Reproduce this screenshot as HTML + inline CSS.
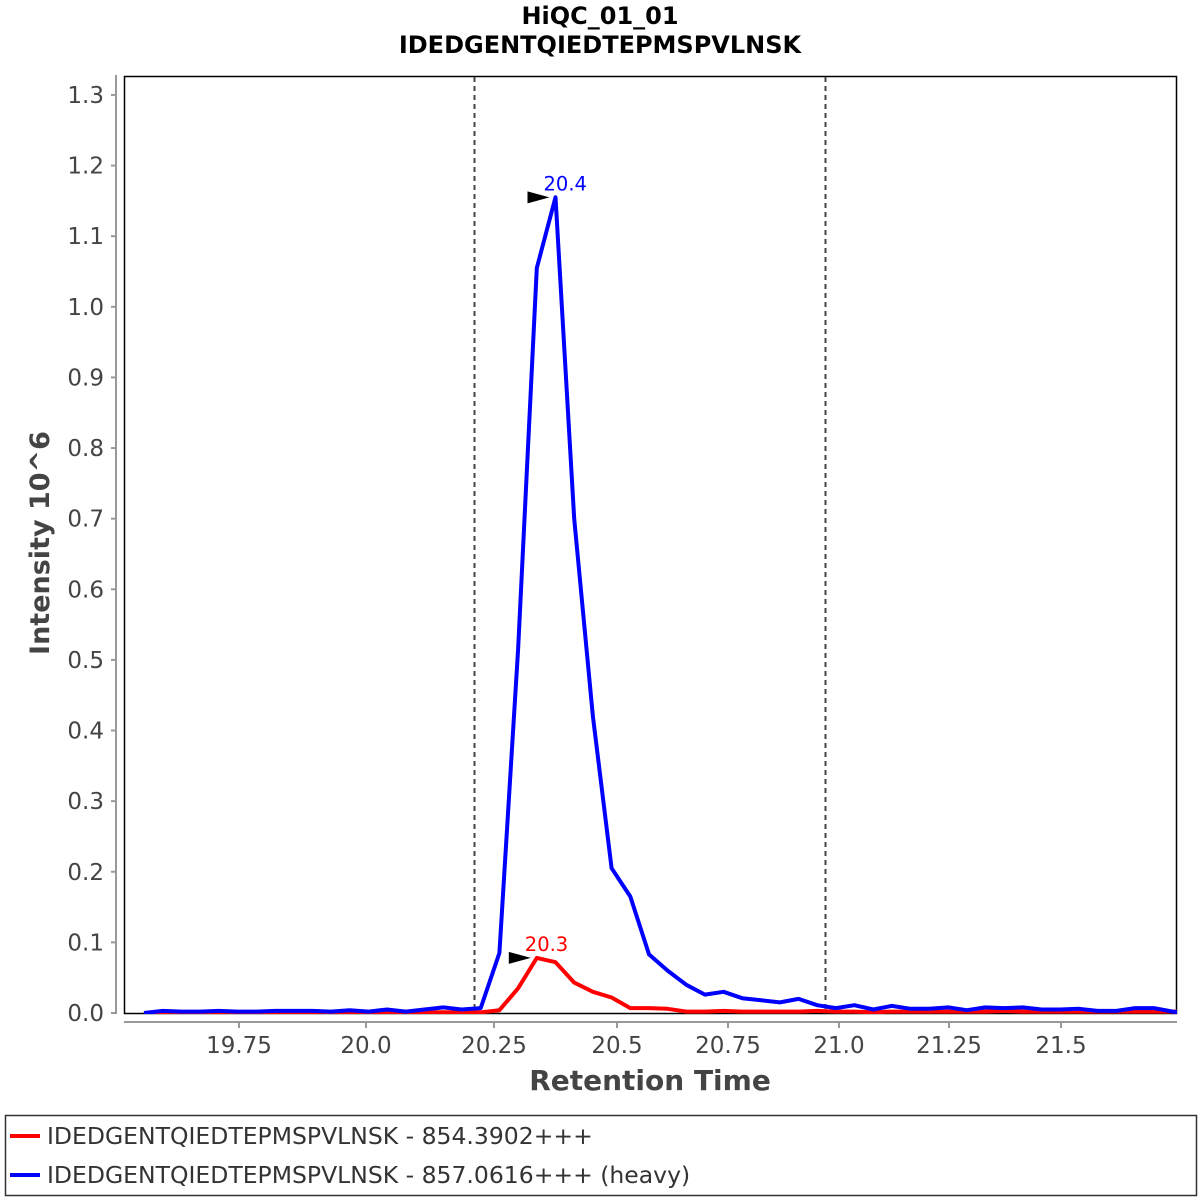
<!DOCTYPE html>
<html><head><meta charset="utf-8"><style>
html,body{margin:0;padding:0;background:#fff;}
svg{display:block;font-family:"DejaVu Sans","Liberation Sans",sans-serif;}
</style></head><body>
<svg id="chart" width="1200" height="1200" viewBox="0 0 1200 1200">
<rect x="0" y="0" width="1200" height="1200" fill="#fff"/>
<text x="600" y="24" text-anchor="middle" font-size="24" font-weight="bold" fill="#000">HiQC_01_01</text>
<text x="600" y="53" text-anchor="middle" font-size="24" font-weight="bold" fill="#000">IDEDGENTQIEDTEPMSPVLNSK</text>
<rect x="124.5" y="76.5" width="1052" height="937" fill="none" stroke="#000" stroke-width="1.5"/>
<line x1="116" y1="75" x2="116" y2="1014" stroke="#999" stroke-width="2"/>
<line x1="124" y1="1022" x2="1177" y2="1022" stroke="#999" stroke-width="2"/>
<g id="yticks"></g><g id="xticks"></g><g id="vlines"></g><g id="series"></g><g id="annots"></g>
<text x="650" y="1090" text-anchor="middle" font-size="28" font-weight="bold" fill="#444">Retention Time</text>
<text transform="translate(49,543) rotate(-90)" text-anchor="middle" font-size="27" font-weight="bold" fill="#444">Intensity 10^6</text>
<g>
<rect x="5.5" y="1115.5" width="1191" height="80" fill="#fff" stroke="#333" stroke-width="1.5"/>
<line x1="10" y1="1136" x2="40" y2="1136" stroke="#f00" stroke-width="4"/>
<text x="47" y="1144" font-size="23.5" fill="#333">IDEDGENTQIEDTEPMSPVLNSK - 854.3902+++</text>
<line x1="10" y1="1175" x2="40" y2="1175" stroke="#00f" stroke-width="4"/>
<text x="47" y="1183" font-size="23.5" fill="#333">IDEDGENTQIEDTEPMSPVLNSK - 857.0616+++ (heavy)</text>
</g>
</svg>
<script>
const times=[19.563,19.600,19.637,19.673,19.710,19.747,19.784,19.821,19.858,19.894,19.931,19.968,20.005,20.041,20.078,20.114,20.151,20.187,20.224,20.261,20.299,20.337,20.375,20.413,20.451,20.489,20.530,20.572,20.614,20.656,20.698,20.740,20.782,20.825,20.867,20.909,20.951,20.993,21.035,21.078,21.120,21.163,21.205,21.248,21.290,21.331,21.373,21.415,21.457,21.498,21.540,21.582,21.624,21.666,21.708,21.750,21.792];
const heavyValues=[0.000,0.003,0.002,0.002,0.003,0.002,0.002,0.003,0.003,0.003,0.002,0.004,0.002,0.005,0.002,0.005,0.008,0.005,0.007,0.085,0.515,1.055,1.155,0.700,0.420,0.205,0.165,0.083,0.060,0.040,0.026,0.030,0.021,0.018,0.015,0.020,0.011,0.007,0.011,0.005,0.010,0.006,0.006,0.008,0.004,0.008,0.007,0.008,0.005,0.005,0.006,0.003,0.003,0.007,0.007,0.002,0.000];
const lightValues=[0.000,0.001,0.001,0.001,0.001,0.001,0.001,0.001,0.001,0.001,0.001,0.001,0.001,0.001,0.001,0.001,0.001,0.001,0.001,0.004,0.035,0.078,0.072,0.043,0.030,0.022,0.007,0.007,0.006,0.002,0.002,0.003,0.002,0.002,0.002,0.002,0.003,0.002,0.002,0.001,0.002,0.002,0.002,0.002,0.002,0.002,0.003,0.002,0.002,0.002,0.002,0.002,0.002,0.002,0.002,0.002,0.002];
const xTickValues=[19.75,20.0,20.25,20.5,20.75,21.0,21.25,21.5];
const xTickLabels=["19.75","20.0","20.25","20.5","20.75","21.0","21.25","21.5"];
const yTickValues=[0,0.1,0.2,0.3,0.4,0.5,0.6,0.7,0.8,0.9,1.0,1.1,1.2,1.3];
const yTickLabels=["0.0","0.1","0.2","0.3","0.4","0.5","0.6","0.7","0.8","0.9","1.0","1.1","1.2","1.3"];
const boundaryTimes=[20.211,20.968];
const peakLabels=["20.3","20.4"];

const NS="http://www.w3.org/2000/svg";
const kT=[19.5,19.75,20.0,20.25,20.5,20.75,21.0,21.25,21.5,21.8];
const kP=[112,239,366,494,617,728,839,949,1061,1195];
function xs(t){for(let i=0;i<kT.length-1;i++){if(t<=kT[i+1]||i===kT.length-2){return kP[i]+(t-kT[i])/(kT[i+1]-kT[i])*(kP[i+1]-kP[i]);}}}
function ys(v){return 1013-v*706.2;}
function mk(tag,attrs,parent){const e=document.createElementNS(NS,tag);for(const k in attrs)e.setAttribute(k,attrs[k]);parent.appendChild(e);return e;}

const yt=document.getElementById('yticks');
yTickValues.forEach((v,i)=>{const y=ys(v);
 const l=mk('line',{x1:111,y1:y,x2:116,y2:y,stroke:'#999','stroke-width':2},yt);
 
 
 const t=mk('text',{x:104,y:y+8,'text-anchor':'end','font-size':23,fill:'#444'},yt);
 t.textContent=yTickLabels[i];
 
 
});
const xt=document.getElementById('xticks');
xTickValues.forEach((v,i)=>{const x=xs(v);
 const l=mk('line',{x1:x,y1:1022,x2:x,y2:1028,stroke:'#999','stroke-width':2},xt);
 
 
 const t=mk('text',{x:x,y:1053,'text-anchor':'middle','font-size':23,fill:'#444'},xt);
 t.textContent=xTickLabels[i];
 
 
});
const vl=document.getElementById('vlines');
boundaryTimes.forEach(b=>{const x=Math.round(xs(b))+0.5;
 const l=mk('line',{x1:x,y1:77,x2:x,y2:1013,stroke:'#444','stroke-width':2,'stroke-dasharray':'5,4'},vl);
 
 
});
const sg=document.getElementById('series');
const clip=mk('clipPath',{id:'pc'},sg);mk('rect',{x:124,y:76,width:1053,height:938},clip);
function drawSeries(vals,color,name){
 const d=vals.map((v,i)=>(i?'L':'M')+xs(times[i]).toFixed(1)+','+ys(v).toFixed(1)).join(' ');
 const p=mk('path',{d:d,fill:'none',stroke:color,'stroke-width':4,'stroke-linejoin':'round','clip-path':'url(#pc)'},sg);
 
 
}
drawSeries(lightValues,'#f00','series-light');
drawSeries(heavyValues,'#00f','series-heavy');
const an=document.getElementById('annots');
function annotate(vals,color,label,name){
 let mi=0;vals.forEach((v,i)=>{if(v>vals[mi])mi=i;});
 const x=xs(times[mi]),y=ys(vals[mi]);
 const tri=mk('polygon',{points:`${x-28},${y-6} ${x-6},${y} ${x-28},${y+6}`,fill:'#000'},an);
 
 
 const t=mk('text',{x:x-12,y:y-7,'font-size':19.5,fill:color},an);
 t.textContent=label;
 
 
}
annotate(lightValues,'#f00',peakLabels[0],'peak-light');
annotate(heavyValues,'#00f',peakLabels[1],'peak-heavy');
</script>
</body></html>
